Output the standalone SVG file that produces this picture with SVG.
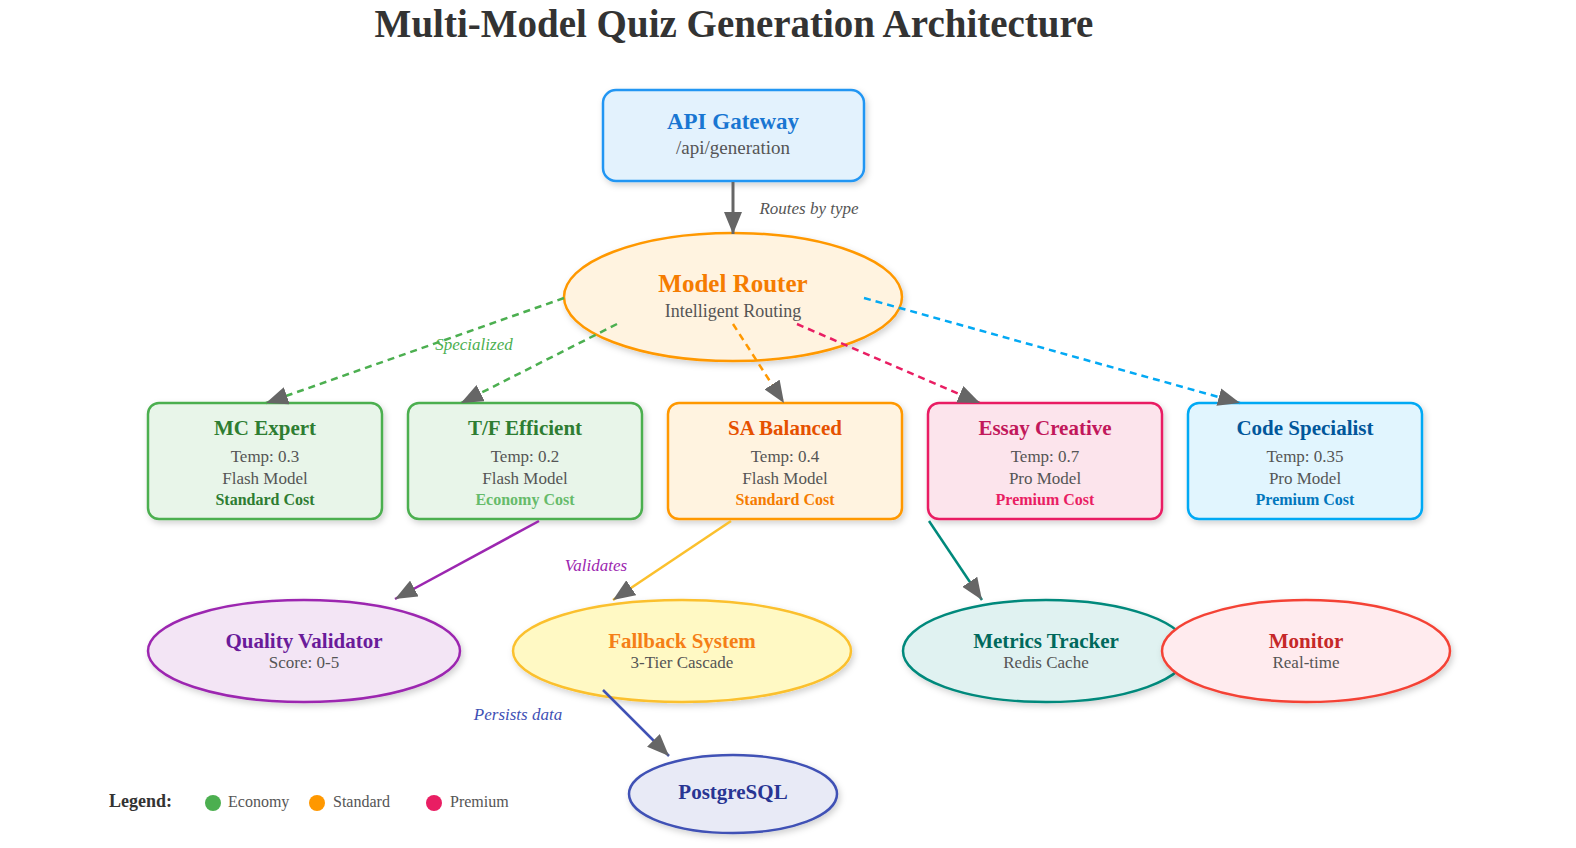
<svg xmlns="http://www.w3.org/2000/svg" width="1576" height="848" viewBox="0 0 1576 848">
<defs>
<filter id="sh" x="-20%" y="-20%" width="140%" height="150%">
<feDropShadow dx="2" dy="3" stdDeviation="3" flood-color="#000" flood-opacity="0.18"/>
</filter>
<marker id="ah" markerUnits="userSpaceOnUse" markerWidth="24" markerHeight="18" refX="22" refY="9" orient="auto">
<path d="M0,0 L22,9 L0,18 z" fill="#666"/>
</marker>
</defs>
<style>
text{font-family:"Liberation Serif","Times New Roman",serif;text-anchor:middle}
.ttl{font-size:39px;font-weight:bold;fill:#333}
.h{font-size:21px;font-weight:bold}
.s{font-size:17px;fill:#555}
.c{font-size:16px;font-weight:bold}
.big{font-size:23px}
.rt{font-size:25px}
.sub{font-size:19px}
.sub2{font-size:18px}
.lbl{font-size:17px;font-style:italic}
.node{stroke-width:2.5;filter:url(#sh)}
.dash{fill:none;stroke-width:2.5;stroke-dasharray:7,5}
.sol{fill:none;stroke-width:2.5}
.lg{text-anchor:start;font-size:16px;fill:#555}
</style>
<rect width="1576" height="848" fill="#fff"/>
<text class="ttl" x="734" y="37">Multi-Model Quiz Generation Architecture</text>

<g id="api-gateway">
<rect class="node" x="603" y="90" width="261" height="91" rx="13" fill="#e3f2fd" stroke="#2196f3"/>
<text class="h big" x="733" y="129" fill="#1976d2">API Gateway</text>
<text class="s sub" x="733" y="154">/api/generation</text>
</g>

<g id="model-router">
<ellipse class="node" cx="733" cy="297" rx="169" ry="64" fill="#fff3e0" stroke="#ff9800" stroke-width="3"/>
<text class="h rt" x="733" y="292" fill="#f57c00">Model Router</text>
<text class="s sub2" x="733" y="317">Intelligent Routing</text>
</g>

<g id="mc-expert">
<rect class="node" x="148" y="403" width="234" height="116" rx="11" fill="#e8f5e9" stroke="#4caf50"/>
<text class="h" x="265" y="435" fill="#2e7d32">MC Expert</text>
<text class="s" x="265" y="462">Temp: 0.3</text>
<text class="s" x="265" y="484">Flash Model</text>
<text class="c" x="265" y="505" fill="#2e7d32">Standard Cost</text>
</g>

<g id="tf-efficient">
<rect class="node" x="408" y="403" width="234" height="116" rx="11" fill="#e8f5e9" stroke="#4caf50"/>
<text class="h" x="525" y="435" fill="#2e7d32">T/F Efficient</text>
<text class="s" x="525" y="462">Temp: 0.2</text>
<text class="s" x="525" y="484">Flash Model</text>
<text class="c" x="525" y="505" fill="#66bb6a">Economy Cost</text>
</g>

<g id="sa-balanced">
<rect class="node" x="668" y="403" width="234" height="116" rx="11" fill="#fff3e0" stroke="#ff9800"/>
<text class="h" x="785" y="435" fill="#e65100">SA Balanced</text>
<text class="s" x="785" y="462">Temp: 0.4</text>
<text class="s" x="785" y="484">Flash Model</text>
<text class="c" x="785" y="505" fill="#f57c00">Standard Cost</text>
</g>

<g id="essay-creative">
<rect class="node" x="928" y="403" width="234" height="116" rx="11" fill="#fce4ec" stroke="#e91e63"/>
<text class="h" x="1045" y="435" fill="#c2185b">Essay Creative</text>
<text class="s" x="1045" y="462">Temp: 0.7</text>
<text class="s" x="1045" y="484">Pro Model</text>
<text class="c" x="1045" y="505" fill="#e91e63">Premium Cost</text>
</g>

<g id="code-specialist">
<rect class="node" x="1188" y="403" width="234" height="116" rx="11" fill="#e1f5fe" stroke="#03a9f4"/>
<text class="h" x="1305" y="435" fill="#01579b">Code Specialist</text>
<text class="s" x="1305" y="462">Temp: 0.35</text>
<text class="s" x="1305" y="484">Pro Model</text>
<text class="c" x="1305" y="505" fill="#0277bd">Premium Cost</text>
</g>

<g id="quality-validator">
<ellipse class="node" cx="304" cy="651" rx="156" ry="51" fill="#f3e5f5" stroke="#9c27b0"/>
<text class="h" x="304" y="648" fill="#6a1b9a">Quality Validator</text>
<text class="s" x="304" y="668">Score: 0-5</text>
</g>

<g id="fallback-system">
<ellipse class="node" cx="682" cy="651" rx="169" ry="51" fill="#fff9c4" stroke="#fbc02d"/>
<text class="h" x="682" y="648" fill="#f57f17">Fallback System</text>
<text class="s" x="682" y="668">3-Tier Cascade</text>
</g>

<g id="metrics-tracker">
<ellipse class="node" cx="1046" cy="651" rx="143" ry="51" fill="#e0f2f1" stroke="#00897b"/>
<text class="h" x="1046" y="648" fill="#00695c">Metrics Tracker</text>
<text class="s" x="1046" y="668">Redis Cache</text>
</g>

<g id="monitor">
<ellipse class="node" cx="1306" cy="651" rx="144" ry="51" fill="#ffebee" stroke="#f44336"/>
<text class="h" x="1306" y="648" fill="#c62828">Monitor</text>
<text class="s" x="1306" y="668">Real-time</text>
</g>

<g id="postgresql">
<ellipse class="node" cx="733" cy="794" rx="104" ry="39" fill="#e8eaf6" stroke="#3f51b5"/>
<text class="h" x="733" y="799" fill="#283593">PostgreSQL</text>
</g>

<g id="connectors">
<line x1="733" y1="182" x2="733" y2="234" stroke="#666" stroke-width="3" marker-end="url(#ah)"/>
<text class="lbl" x="809" y="214" fill="#555">Routes by type</text>
<line class="dash" x1="564" y1="298" x2="266" y2="403" stroke="#4caf50" marker-end="url(#ah)"/>
<text class="lbl" x="474" y="350" fill="#4caf50">Specialized</text>
<line class="dash" x1="617" y1="324" x2="461" y2="403" stroke="#4caf50" marker-end="url(#ah)"/>
<line class="dash" x1="733" y1="324" x2="784" y2="403" stroke="#ff9800" marker-end="url(#ah)"/>
<line class="dash" x1="797" y1="324" x2="980" y2="403" stroke="#e91e63" marker-end="url(#ah)"/>
<line class="dash" x1="864" y1="298" x2="1240" y2="403" stroke="#03a9f4" marker-end="url(#ah)"/>
<line class="sol" x1="539" y1="521" x2="395" y2="599" stroke="#9c27b0" marker-end="url(#ah)"/>
<text class="lbl" x="596" y="571" fill="#9c27b0">Validates</text>
<line class="sol" x1="731" y1="521" x2="613" y2="600" stroke="#fbc02d" marker-end="url(#ah)"/>
<line class="sol" x1="929" y1="521" x2="982" y2="600" stroke="#00897b" marker-end="url(#ah)"/>
<line class="sol" x1="603" y1="690" x2="669" y2="756" stroke="#3f51b5" marker-end="url(#ah)"/>
<text class="lbl" x="518" y="720" fill="#3f51b5">Persists data</text>
</g>

<g id="legend">
<text x="109" y="807" style="text-anchor:start;font-size:18px;font-weight:bold;fill:#333">Legend:</text>
<circle cx="213" cy="803" r="8" fill="#4caf50"/>
<text class="lg" x="228" y="807">Economy</text>
<circle cx="317" cy="803" r="8" fill="#ff9800"/>
<text class="lg" x="333" y="807">Standard</text>
<circle cx="434" cy="803" r="8" fill="#e91e63"/>
<text class="lg" x="450" y="807">Premium</text>
</g>
</svg>
